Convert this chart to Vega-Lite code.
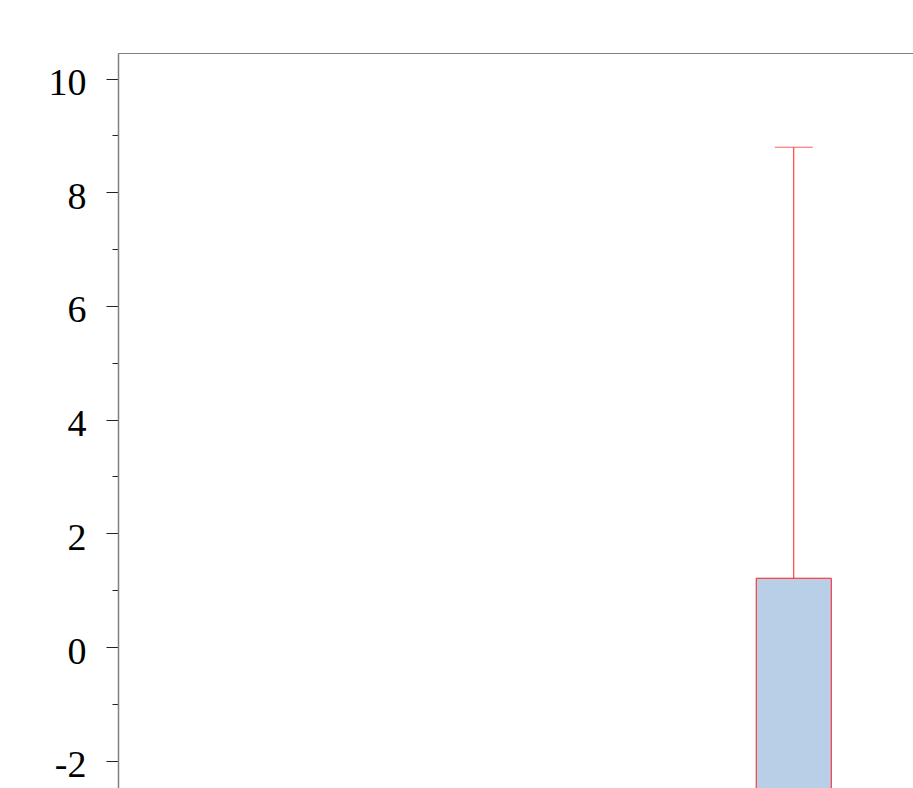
{
  "$schema": "https://vega.github.io/schema/vega-lite/v6.json",
  "autosize": {"type": "none"},
  "padding": {"left": 118, "top": 53, "right": 0, "bottom": 0},
  "width": 901,
  "height": 735,
  "background": "white",
  "config": {
    "view": {"stroke": "#808080", "strokeWidth": 1},
    "font": "Times New Roman, Liberation Serif, DejaVu Serif, serif"
  },
  "data": {
    "values": [
      {"group": "5", "value": 1.21, "low": -3.5, "upper": 8.79}
    ]
  },
  "encoding": {
    "x": {
      "field": "group",
      "type": "nominal",
      "axis": null,
      "scale": {"domain": ["1", "2", "3", "4", "5", "6"], "paddingInner": 0.5, "paddingOuter": 0.25}
    }
  },
  "layer": [
    {
      "mark": {"type": "bar", "fill": "#b8cfe7", "stroke": "#ff1a1a", "strokeWidth": 1, "clip": true},
      "encoding": {
        "y": {
          "field": "value",
          "type": "quantitative",
          "scale": {"domain": [-2.48, 10.45], "nice": false, "zero": false},
          "axis": {
            "title": null,
            "values": [-2, -1, 0, 1, 2, 3, 4, 5, 6, 7, 8, 9, 10],
            "grid": false,
            "domainColor": "#808080",
            "domainWidth": 1.5,
            "tickColor": "#222222",
            "tickWidth": 1,
            "tickSize": {"expr": "datum.value % 2 === 0 ? 12 : 6"},
            "labelExpr": "datum.value % 2 === 0 ? toString(datum.value) : ''",
            "labelFont": "Times New Roman, Liberation Serif, DejaVu Serif, serif",
            "labelFontSize": 38,
            "labelColor": "#000000",
            "labelPadding": 20,
            "labelBaseline": "middle",
            "labelOffset": 5
          }
        },
        "y2": {"field": "low"}
      }
    },
    {
      "mark": {"type": "rule", "color": "#ff1a1a", "strokeWidth": 1},
      "encoding": {
        "y": {"field": "value", "type": "quantitative"},
        "y2": {"field": "upper"}
      }
    },
    {
      "mark": {"type": "tick", "orient": "horizontal", "color": "#ff1a1a", "size": 38, "thickness": 1},
      "encoding": {
        "y": {"field": "upper", "type": "quantitative"}
      }
    }
  ]
}
